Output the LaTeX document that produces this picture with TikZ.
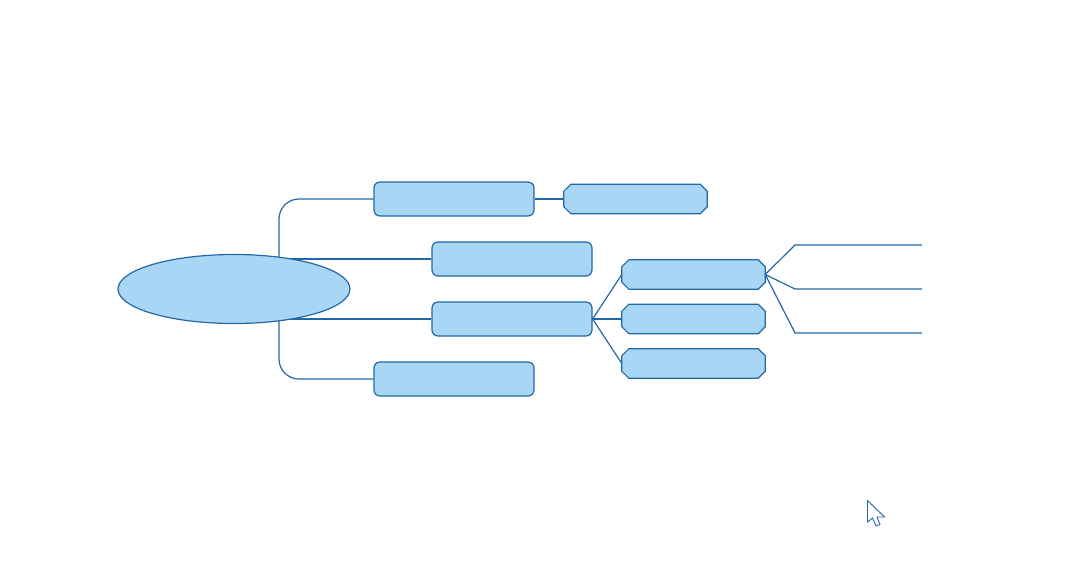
\documentclass[tikz,border=0pt]{standalone}
\usetikzlibrary{shapes.geometric,backgrounds}
\definecolor{topicfill}{RGB}{170,214,245}
\definecolor{topicline}{RGB}{34,104,164}
\begin{document}
\begin{tikzpicture}[%
                x=1pt, y=-1pt,
                myline/.style={draw=topicline, line width=1.2pt},
                mainnode/.style={shape=ellipse, draw=topicline, fill=topicfill, line width=1.2pt,
                    minimum width=232pt, minimum height=69pt, inner sep=0pt},
                mybox/.style={shape=rectangle, rounded corners=6pt, draw=topicline, fill=topicfill,
                    line width=1.2pt, minimum width=160pt, minimum height=34pt, inner sep=0pt},
                mychamf/.style={shape=rectangle, minimum width=143pt, minimum height=29pt, inner sep=0pt},
                myoct/.style={draw=topicline, fill=topicfill, line width=1.2pt, line join=miter}
        ]
            \useasboundingbox (0,0) rectangle (1076,571);
            \node [mainnode] (root) at (234,289) {};
            \node [mybox] (topa) at (454,199) {};
            \node [mybox] (topb) at (512,259) {};
            \node [mybox] (topc) at (512,319) {};
            \node [mybox] (topd) at (454,379) {};
            \node [mychamf] (suba) at (635.5,199) {};
            \node [mychamf] (subc1) at (693.5,274.5) {};
            \node [mychamf] (subc2) at (693.5,319) {};
            \node [mychamf] (subc3) at (693.5,363.5) {};
            \foreach \s in {suba,subc1,subc2,subc3} {
                \filldraw [myoct] ([xshift=7pt]\s.north west) -- ([xshift=-7pt]\s.north east)
                    -- ([yshift=-7pt]\s.north east) -- ([yshift=7pt]\s.south east)
                    -- ([xshift=-7pt]\s.south east) -- ([xshift=7pt]\s.south west)
                    -- ([yshift=7pt]\s.south west) -- ([yshift=-7pt]\s.north west) -- cycle;
            }
            \coordinate (trunk) at (279,289);
            \begin{pgfonlayer}{background}
                \draw [myline, rounded corners=20pt] (trunk) |- (topa.west);
                \draw [myline, rounded corners=20pt] (trunk) |- (topd.west);
                \draw [myline] (root.center |- topb.west) -- (topb.west);
                \draw [myline] (root.center |- topc.west) -- (topc.west);
            \end{pgfonlayer}
            \draw [myline] (topa.east) -- (suba.west);
            \foreach \s in {subc1,subc2,subc3} {
                \draw [myline] (topc.east) -- (\s.west);
            }
            % empty topics
            \foreach \y [count=\i] in {245,289,333} {
                \coordinate (free\i) at (922,\y);
                \draw [myline] (subc1.east) -- ([xshift=-127pt]free\i) -- (free\i);
            }
            % pointer
            \filldraw [draw=topicline, fill=white, line width=0.9pt, line join=miter]
                (867.5,500.5) -- (867.5,522) -- (872.5,518) -- (876,526) -- (880,524.5) -- (877,517) -- (884.5,517) -- cycle;
        \end{tikzpicture}
\end{document}
